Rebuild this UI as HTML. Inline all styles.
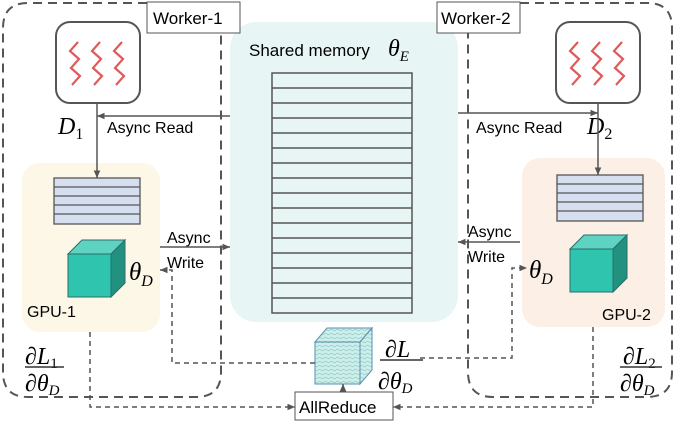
<!DOCTYPE html>
<html><head><meta charset="utf-8"><style>
html,body{margin:0;padding:0;background:#fff}
svg{display:block;font-family:"Liberation Sans",sans-serif}
.m{font-family:"Liberation Serif",serif;font-style:italic}
</style></head><body>
<svg width="676" height="426" viewBox="0 0 676 426">
<defs>
<marker id="a" markerWidth="6" markerHeight="6" refX="5" refY="3" orient="auto"><path d="M0,0.8 L5,3 L0,5.2z" fill="#555"/></marker>
<pattern id="p" width="6" height="4" patternUnits="userSpaceOnUse"><rect width="6" height="4" fill="#cdeeea"/><path d="M0,2 q1.5,-1.5 3,0 t3,0" stroke="#8ccfc6" fill="none" stroke-width="0.7"/></pattern>
</defs>
<rect x="230" y="22" width="228" height="300" rx="26" fill="#e7f6f4"/>
<rect x="22" y="163" width="138" height="169" rx="18" fill="#fdf7e8"/>
<rect x="522" y="158" width="143" height="169" rx="18" fill="#fcefe6"/>
<g fill="none" stroke="#555" stroke-width="2" stroke-dasharray="9,6">
<path d="M147,3 H28 Q3,3 3,28 V372 Q3,397 28,397 H196 Q221,397 221,372 V33"/>
<path d="M520,3 H647 Q672,3 672,28 V372 Q672,397 647,397 H493 Q468,397 468,372 V33"/>
</g>
<rect x="147" y="2" width="93" height="31" fill="#fff" stroke="#555"/>
<text x="153" y="24" font-size="17">Worker-1</text>
<rect x="437" y="2" width="83" height="31" fill="#fff" stroke="#555"/>
<text x="441" y="24" font-size="17">Worker-2</text>
<text x="249" y="56" font-size="17">Shared memory</text>
<text x="388" y="56" font-size="24" class="m">θ<tspan font-size="15" dy="5">E</tspan></text>
<g stroke="#555" stroke-width="1.5" fill="none">
<rect x="272" y="73" width="140" height="240"/>
<path d="M272,88H412M272,103H412M272,118H412M272,133H412M272,148H412M272,163H412M272,178H412M272,193H412M272,208H412M272,223H412M272,238H412M272,253H412M272,268H412M272,283H412M272,298H412"/>
</g>
<g stroke="#555" stroke-width="2" fill="#fff"><rect x="56" y="22" width="84" height="81" rx="14"/><rect x="556" y="22" width="84" height="81" rx="14"/></g>
<g stroke="#e05a5a" stroke-width="2.2" fill="none">
<path d="M78,42l-8,9 9,8 -8,9 9,8 -8,9"/><path d="M100,42l-8,9 9,8 -8,9 9,8 -8,9"/><path d="M122,42l-8,9 9,8 -8,9 9,8 -8,9"/>
<path d="M578,42l-8,9 9,8 -8,9 9,8 -8,9"/><path d="M600,42l-8,9 9,8 -8,9 9,8 -8,9"/><path d="M622,42l-8,9 9,8 -8,9 9,8 -8,9"/>
</g>
<text x="58" y="134" font-size="24" class="m">D<tspan font-size="16" font-style="normal" dy="5">1</tspan></text>
<text x="587" y="134" font-size="24" class="m">D<tspan font-size="16" font-style="normal" dy="5">2</tspan></text>
<text x="107" y="133" font-size="16">Async Read</text>
<text x="476" y="133" font-size="16">Async Read</text>
<g stroke="#555" stroke-width="1.3" fill="#d6dff0">
<rect x="54" y="178" width="86" height="46"/><rect x="557" y="175" width="86" height="46"/>
</g>
<g stroke="#555" stroke-width="1.3"><path d="M54,187H140M54,196H140M54,205H140M54,214H140M557,184H643M557,193H643M557,202H643M557,211H643"/></g>
<g stroke="#2a6e6a" stroke-width="1">
<path d="M68,254 l14,-14 h43 l-14,14z" fill="#5fd3c2"/><path d="M111,254 l14,-14 v43 l-14,14z" fill="#23917f"/><rect x="68" y="254" width="43" height="43" fill="#2ec4ad"/>
<path d="M570,249 l14,-14 h43 l-14,14z" fill="#5fd3c2"/><path d="M613,249 l14,-14 v43 l-14,14z" fill="#23917f"/><rect x="570" y="249" width="43" height="43" fill="#2ec4ad"/>
</g>
<g stroke="#5a8fb0" stroke-width="1"><path d="M315,342 l12,-14 h45 l-12,14z" fill="url(#p)"/><path d="M360,342 l12,-14 v42 l-12,14z" fill="url(#p)"/><rect x="315" y="342" width="45" height="42" fill="url(#p)"/></g>
<text x="129" y="280" font-size="25" class="m">θ<tspan font-size="16" dy="6">D</tspan></text>
<text x="529" y="278" font-size="25" class="m">θ<tspan font-size="16" dy="6">D</tspan></text>
<text x="27" y="317" font-size="16">GPU-1</text>
<text x="602" y="320" font-size="16">GPU-2</text>
<text x="167" y="243" font-size="16">Async</text><text x="167" y="268" font-size="16">Write</text>
<text x="468" y="237" font-size="16">Async</text><text x="468" y="262" font-size="16">Write</text>
<g stroke="#555" stroke-width="1.5" fill="none" marker-end="url(#a)">
<path d="M230,116H97"/><path d="M97,103V178"/>
<path d="M458,113H598"/><path d="M598,103V175"/>
<path d="M160,247H230"/><path d="M520,242H458"/>
<path d="M343,392V384"/>
</g>
<g stroke="#555" stroke-width="1.5" fill="none" stroke-dasharray="5,4" marker-end="url(#a)">
<path d="M315,363H172V270H160"/>
<path d="M420,358H512V268H527"/>
<path d="M90,332V407H295"/>
<path d="M593,327V407H393"/>
</g>
<rect x="295" y="392" width="98" height="28" fill="#fff" stroke="#555"/>
<text x="299" y="413" font-size="17">AllReduce</text>
<g class="m" font-size="24">
<text x="25" y="364">∂L<tspan font-size="15" font-style="normal" dy="4">1</tspan></text>
<text x="25" y="391">∂θ<tspan font-size="15" dy="4">D</tspan></text>
<text x="385" y="357">∂L</text>
<text x="378" y="389">∂θ<tspan font-size="15" dy="4">D</tspan></text>
<text x="623" y="364">∂L<tspan font-size="15" font-style="normal" dy="4">2</tspan></text>
<text x="620" y="391">∂θ<tspan font-size="15" dy="4">D</tspan></text>
</g>
<g stroke="#333" stroke-width="1.5"><path d="M25,367H64M380,360H423M620,367H662"/></g>
</svg>
</body></html>
